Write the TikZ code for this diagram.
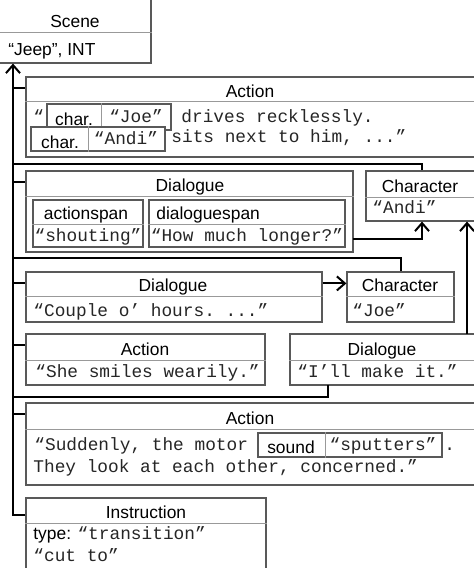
\documentclass[tikz,border=0pt]{standalone}
\usepackage{fontspec}
\setmainfont{Liberation Sans}
\setmonofont{Liberation Mono}
\usetikzlibrary{fit,arrows.meta}

\tikzset{
	box/.style={draw=black!65, line width=0.6pt, fill=white, inner sep=0pt},
	part/.style={draw=black!40, line width=0.5pt},
	conn/.style={line width=1pt},
	arr/.style={conn, -{Straight Barb[length=4pt, width=7pt]}},
	head/.style={inner sep=0pt, anchor=base, font=\fontsize{8.7}{10}\selectfont},
	txt/.style={inner sep=0pt, anchor=base west, text=black!85, font=\fontsize{8.9}{10}\ttfamily},
}

\begin{document}
\begin{tikzpicture}[x=0.5pt, y=-0.5pt]
	\useasboundingbox (0,0) rectangle (474,568);
	\clip (0,0) rectangle (474,568);

	% boxes
	\node[box, fit={(-2,-4) (151,63)}] (scene) {};
	\node[box, fit={(26,77) (478,157)}] (act1) {};
	\node[box, fit={(26,171) (353,252)}] (dia1) {};
	\node[box, fit={(33,200) (143,247)}] (aspan) {};
	\node[box, fit={(149,200) (345,247)}] (dspan) {};
	\node[box, fit={(366,171) (478,221)}] (andi) {};
	\node[box, fit={(26,272) (322,322)}] (dia2) {};
	\node[box, fit={(347,272) (454,322)}] (joe) {};
	\node[box, fit={(26,334) (265,385)}] (act2) {};
	\node[box, fit={(290,334) (478,385)}] (dia3) {};
	\node[box, fit={(26,403) (478,485)}] (act3) {};
	\node[box, fit={(26,498) (266,580)}] (inst) {};

	\foreach \b / \y in {scene/32, act1/101, dia1/196, aspan/224, dspan/224,
		andi/197, dia2/296, joe/296, act2/360, dia3/360, act3/429, inst/523}
	{
		\draw[part] (\b.west |- 0,\y) -- (\b.east |- 0,\y);
	};

	% scene
	\node[head] (scene-t) at (75,27) {Scene};
	\node[head, anchor=base west] at (8,55) {“Jeep”, INT};

	% action 1
	\node[head] (act1-t) at (250,97) {Action};
	\node[txt] at (33,122) {“};
	\node[box, fit={(47,104) (171,130)}] (cjoe) {};
	\draw[part] (cjoe.north -| 101,0) -- (cjoe.south -| 101,0);
	\node[head] at (74,125) {char.};
	\node[txt, anchor=base] at (136,122) {“Joe”};
	\node[txt] at (181,122) {drives recklessly.};
	\node[box, fit={(31,127) (165,151)}] (candi) {};
	\draw[part] (candi.north -| 88,0) -- (candi.south -| 88,0);
	\node[head] at (60,148) {char.};
	\node[txt, anchor=base] at (126,144) {“Andi”};
	\node[txt] at (171,142) {sits next to him, ...”};

	% dialogue 1
	\node[head] (dia1-t) at (190,191) {Dialogue};
	\node[head] at (86,219) {actionspan};
	\node[txt, anchor=base] at (88,241) {“shouting”};
	\node[head, anchor=base west] at (156,219) {dialoguespan};
	\node[txt, anchor=base] at (247,241) {“How much longer?”};
	\node[head] (andi-t) at (420,192) {Character};
	\node[txt] at (372,213) {“Andi”};

	% dialogue 2
	\node[head] (dia2-t) at (173,291) {Dialogue};
	\node[txt] at (33,316) {“Couple o’ hours. ...”};
	\node[head] (joe-t) at (400,291) {Character};
	\node[txt] at (352,316) {“Joe”};

	% action 2, dialogue 3
	\node[head] (act2-t) at (145,355) {Action};
	\node[txt] at (35,377) {“She smiles wearily.”};
	\node[head] (dia3-t) at (382,355) {Dialogue};
	\node[txt] at (297,377) {“I’ll make it.”};

	% action 3
	\node[head] (act3-t) at (250,424) {Action};
	\node[txt] at (34,450) {“Suddenly, the motor};
	\node[box, fit={(258,433) (442,457)}] (csound) {};
	\draw[part] (csound.north -| 325,0) -- (csound.south -| 325,0);
	\node[head] at (291,453) {sound};
	\node[txt, anchor=base] at (383,450) {“sputters”};
	\node[txt] at (444,450) {.};
	\node[txt] at (33,472) {They look at each other, concerned.”};

	% instruction
	\node[head] (inst-t) at (146,518) {Instruction};
	\node[head, anchor=base west] at (33,539) {type: {\fontsize{8.9}{10}\ttfamily\color{black!85}“transition”}};
	\node[txt] at (33,561) {“cut to”};

	% connectors
	\coordinate (spine) at (13,515);
	\coordinate (jA) at (13,164);
	\coordinate (jB) at (13,258);
	\coordinate (jC) at (13,397);
	\coordinate (d1o) at (353,239);
	\coordinate (d3o) at (328,385);
	\coordinate (d3i) at (467,334);

	\draw[arr] (inst.west |- spine) -- (spine) -- (spine |- scene.south);
	\foreach \b in {act1, dia1, dia2, act2, act3}
	{
		\coordinate (\b-j) at ([yshift=-6pt]\b.north west);
		\draw[conn] (spine |- \b-j) -- (\b-j);
	};
	\draw[conn] (jA) -| (andi.north);
	\draw[arr] (d1o) -| (andi.south);
	\draw[conn] (jB) -| (joe.north);
	\draw[arr] (dia2.east |- dia2-j) -- (joe.west |- dia2-j);
	\draw[conn] (d3o) |- (jC);
	\draw[arr] (d3i) -- (d3i |- andi.south);
\end{tikzpicture}
\end{document}
